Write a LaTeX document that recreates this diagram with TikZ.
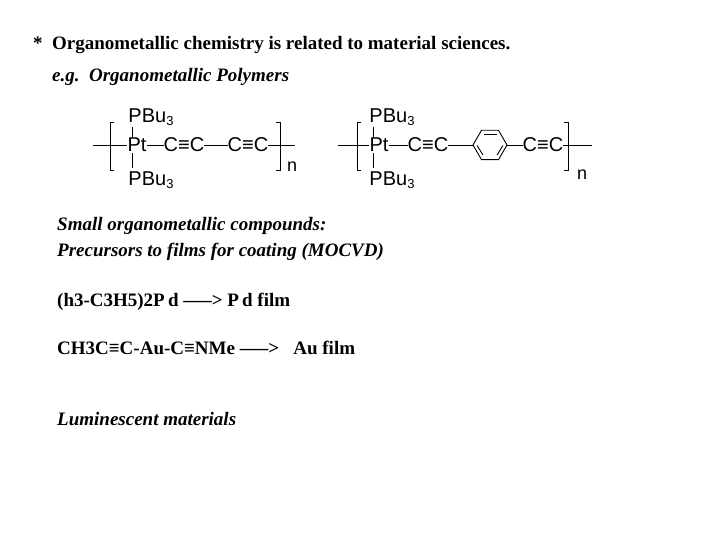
\documentclass[tikz,border=0pt]{standalone}
\usepackage{fontspec}
\setmainfont{Liberation Serif}
\newfontfamily\chemf{Liberation Sans}
\newcommand{\sbt}[1]{\raisebox{-0.3ex}{\fontsize{13}{14}\selectfont #1}}
\begin{document}
\begin{tikzpicture}[x=1pt,y=-1pt,
  txt/.style={anchor=base west,inner sep=0pt,font=\fontsize{19}{22}\selectfont\bfseries},
  itxt/.style={txt,font=\fontsize{19}{22}\selectfont\bfseries\itshape},
  ch/.style={inner sep=0pt,font=\fontsize{20}{22}\selectfont\chemf},
  bd/.style={line width=0.9pt}]
\useasboundingbox (0,0) rectangle (720,540);
\node[txt] (t1) at (33,50) {*\ \ Organometallic chemistry is related to material sciences.};
\node[itxt] (t2) at (52,82) {e.g.\ \ Organometallic Polymers};
\node[itxt] (t3) at (57,230) {Small organometallic compounds:};
\node[itxt] (t4) at (57,256) {Precursors to films for coating (MOCVD)};
\node[txt] (t5) at (57,306) {(h3-C3H5)2P\,d ---–> P\,d film};
\node[txt] (t6) at (57,354) {CH3C≡C-Au-C≡NMe ---–>\ \ \ Au film};
\node[itxt] (t7) at (57,425) {Luminescent materials};
% left polymer
\node[ch] (pt1) at (137,145) {Pt};
\node[ch] (pa1) at (151,117) {PBu\sbt{3}};
\node[ch] (pb1) at (151,180) {PBu\sbt{3}};
\node[ch] (c1) at (184,145) {C≡C};
\node[ch] (c2) at (248,145) {C≡C};
\coordinate (l1) at (93,145); \coordinate (r1) at (295,145);
\draw[bd] (l1) -- (pt1.west);
\draw[bd] (pt1.east) -- (c1.west);
\draw[bd] (c1.east) -- (c2.west);
\draw[bd] (c2.east) -- (r1);
\draw[bd] (132,127) -- (132,137);
\draw[bd] (132,153) -- (132,168);
\draw[bd] (114,122) -- (110,122) -- (110,170) -- (114,170);
\draw[bd] (276,122) -- (280,122) -- (280,170) -- (276,170);
\node[ch,anchor=west,font=\fontsize{18}{20}\selectfont\chemf] (n1) at (287,167) {n};
% right polymer
\node[ch] (pt2) at (379,145) {Pt};
\node[ch] (pa2) at (392,117) {PBu\sbt{3}};
\node[ch] (pb2) at (392,180) {PBu\sbt{3}};
\node[ch] (c3) at (428,145) {C≡C};
\node[ch] (c4) at (543,145) {C≡C};
\coordinate (l2) at (338,145); \coordinate (r2) at (592,145);
\coordinate (h1) at (473,145); \coordinate (h2) at (507,145);
\draw[bd] (l2) -- (pt2.west);
\draw[bd] (pt2.east) -- (c3.west);
\draw[bd] (c3.east) -- (h1);
\draw[bd] (h2) -- (c4.west);
\draw[bd] (c4.east) -- (r2);
\draw[bd] (h1) -- (481.5,130.3) -- (498.5,130.3) -- (h2) -- (498.5,159.7) -- (481.5,159.7) -- cycle;
\draw[bd] (483.5,134) -- (496.5,134);
\draw[bd] (497,155) -- (503,145.5);
\draw[bd] (483,155) -- (477,145.5);
\draw[bd] (373,127) -- (373,137);
\draw[bd] (373,153) -- (373,168);
\draw[bd] (361,122) -- (357,122) -- (357,170) -- (361,170);
\draw[bd] (564,122) -- (568,122) -- (568,170) -- (564,170);
\node[ch,anchor=west,font=\fontsize{18}{20}\selectfont\chemf] (n2) at (577,175) {n};
\end{tikzpicture}
\end{document}
